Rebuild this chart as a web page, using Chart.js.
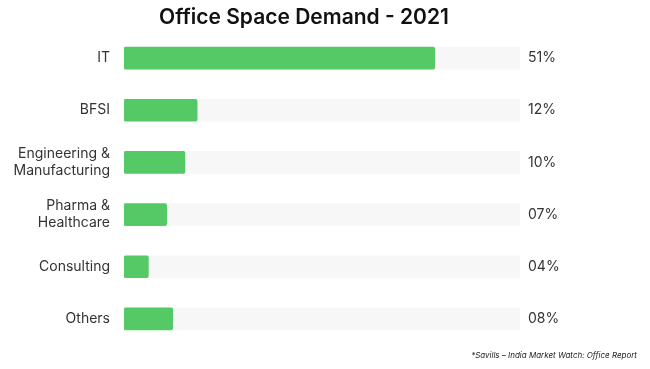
<!DOCTYPE html>
<html>
<head>
<meta charset="utf-8">
<script src="https://cdn.jsdelivr.net/npm/chart.js@4"></script>
<style>
  body { margin: 0; background: #fff; }
  #wrap { position: relative; width: 650px; height: 369px; }
  #title {
    position: absolute; left: 0; width: 608px; top: 4px; text-align: center;
    font-family: Inter, sans-serif; font-weight: 600; font-size: 21px; color: #111;
  }
  #note {
    position: absolute; right: 13px; top: 350px;
    font-family: Inter, sans-serif; font-style: italic; font-size: 8px; color: #222;
  }
</style>
</head>
<body>
<div id="wrap">
  <canvas id="demandChart" width="650" height="369"></canvas>
  <div id="title">Office Space Demand - 2021</div>
  <div id="note">*Savills – India Market Watch: Office Report</div>
</div>
<script>
// Data
let sectors = ['IT', 'BFSI', ['Engineering &', 'Manufacturing'], ['Pharma &', 'Healthcare'], 'Consulting', 'Others'];
let shares = [51, 12, 10, 7, 4, 8];
let shareLabels = ['51%', '12%', '10%', '07%', '04%', '08%'];
let trackMax = 65;
let track = sectors.map(() => trackMax);

let ctx = document.getElementById('demandChart').getContext('2d');
new Chart(ctx, {
    type: 'bar',
    data: {
        labels: sectors,
        datasets: [{
            label: 'Share',
            data: shares,
            backgroundColor: '#55c965',
            borderRadius: 2,
            borderSkipped: false,
            barThickness: 22,
            grouped: false
        }, {
            label: 'Track',
            data: track,
            backgroundColor: '#f7f7f7',
            barThickness: 22,
            grouped: false
        }]
    },
    options: {
        indexAxis: 'y',
        responsive: false,
        animation: false,
        layout: { padding: { top: 32, bottom: 24 } },
        plugins: {
            legend: { display: false },
            tooltip: { enabled: false }
        },
        scales: {
            x: { min: 0, max: trackMax, display: false },
            y: {
                grid: { display: false },
                border: { display: false },
                ticks: { color: '#333', padding: 6, font: { family: 'Inter', size: 14 } },
                afterFit: (scale) => { scale.width = 124; }
            },
            y2: {
                type: 'category',
                position: 'right',
                labels: shareLabels,
                offset: true,
                grid: { display: false },
                border: { display: false },
                ticks: { color: '#333', padding: 0, font: { family: 'Inter', size: 14 } },
                afterFit: (scale) => { scale.width = 130; }
            }
        }
    }
});
</script>
</body>
</html>
